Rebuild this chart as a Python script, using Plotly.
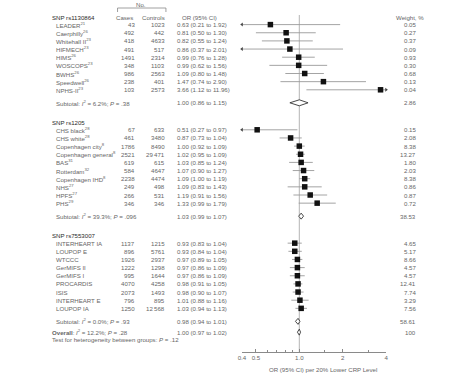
import math
import plotly.graph_objects as go

# ---------------- data ----------------
sections = ["SNP rs1130864", "SNP rs1205", "SNP rs7553007"]

s1_names = ["LEADER<sup>21</sup>", "Caerphilly<sup>26</sup>", "Whitehall II<sup>23</sup>", "HIFMECH<sup>23</sup>",
            "HIMS<sup>26</sup>", "WOSCOPS<sup>23</sup>", "BWHS<sup>26</sup>", "Speedwell<sup>26</sup>", "NPHS-II<sup>23</sup>"]
s1_cases = ["43", "492", "418", "491", "1491", "348", "986", "238", "103"]
s1_controls = ["1023", "442", "4633", "517", "2314", "1103", "2563", "401", "2573"]
s1_or = [0.63, 0.81, 0.82, 0.86, 0.99, 0.99, 1.09, 1.47, 3.66]
s1_lo = [0.21, 0.50, 0.55, 0.37, 0.76, 0.62, 0.80, 0.74, 1.12]
s1_hi = [1.92, 1.30, 1.24, 2.01, 1.28, 1.56, 1.48, 2.90, 11.96]
s1_w = ["0.05", "0.27", "0.37", "0.09", "0.93", "0.30", "0.68", "0.13", "0.04"]

s2_names = ["CHS black<sup>28</sup>", "CHS white<sup>28</sup>", "Copenhagen city<sup>8</sup>",
            "Copenhagen general<sup>8</sup>", "BAS<sup>31</sup>", "Rotterdam<sup>32</sup>",
            "Copenhagen IHD<sup>8</sup>", "NHS<sup>27</sup>", "HPFS<sup>27</sup>", "PHS<sup>29</sup>"]
s2_cases = ["67", "461", "1786", "2521", "619", "584", "2238", "249", "266", "346"]
s2_controls = ["633", "3480", "8490", "29\u2009471", "615", "4647", "4474", "498", "531", "346"]
s2_or = [0.51, 0.87, 1.00, 1.02, 1.03, 1.07, 1.09, 1.09, 1.19, 1.33]
s2_lo = [0.27, 0.73, 0.92, 0.95, 0.85, 0.90, 1.00, 0.83, 0.91, 0.99]
s2_hi = [0.97, 1.04, 1.09, 1.09, 1.24, 1.27, 1.19, 1.43, 1.56, 1.79]
s2_w = ["0.15", "2.08", "8.38", "13.27", "1.80", "2.03", "8.38", "0.86", "0.87", "0.72"]

s3_names = ["INTERHEART IA", "LOUPOP E", "WTCCC", "GerMIFS II", "GerMIFS I", "PROCARDIS", "ISIS",
            "INTERHEART E", "LOUPOP IA"]
s3_cases = ["1137", "896", "1926", "1222", "995", "4070", "2073", "796", "1250"]
s3_controls = ["1215", "5761", "2937", "1298", "1644", "4258", "1493", "895", "12\u2009568"]
s3_or = [0.93, 0.93, 0.97, 0.97, 0.97, 0.98, 0.98, 1.01, 1.03]
s3_lo = [0.83, 0.84, 0.89, 0.86, 0.86, 0.91, 0.90, 0.88, 0.94]
s3_hi = [1.04, 1.04, 1.05, 1.09, 1.09, 1.05, 1.07, 1.16, 1.13]
s3_w = ["4.65", "5.17", "8.66", "4.57", "4.57", "12.41", "7.74", "3.29", "7.56"]

sub_labels = ["Subtotal: <i>I</i><sup>2</sup> = 6.2%; <i>P</i> = .38",
              "Subtotal: <i>I</i><sup>2</sup> = 39.3%; <i>P</i> = .096",
              "Subtotal: <i>I</i><sup>2</sup> = 0.0%; <i>P</i> = .93"]
sub_or = [1.00, 1.03, 0.98]
sub_lo = [0.86, 0.99, 0.94]
sub_hi = [1.15, 1.07, 1.01]
sub_w = ["2.86", "38.53", "58.61"]

overall_label = "<b>Overall</b>: <i>I</i><sup>2</sup> = 12.2%; <i>P</i> = .28"
overall_or, overall_lo, overall_hi, overall_w = 1.00, 0.97, 1.02, "100"
het_label = "Test for heterogeneity between groups: <i>P</i> = .12"

tick_vals = [0.4, 0.5, 1.0, 2, 4]
tick_text = ["0.4", "0.5", "1.0", "2", "4"]
minor_vals = [0.6, 0.7, 0.8, 0.9, 1.5, 3]
x_min, x_max = 0.4, 4.0

# ---------------- layout helpers ----------------
W, H = 474, 376
FONT = "Liberation Sans, Arial, Helvetica, sans-serif"
FS = 6.1
TXT = "#666666"
DARK = "#2a2a2a"

def px(x):
    return x / W

STEP = 8.15
groups = [
    (s1_names, s1_cases, s1_controls, s1_or, s1_lo, s1_hi, s1_w),
    (s2_names, s2_cases, s2_controls, s2_or, s2_lo, s2_hi, s2_w),
    (s3_names, s3_cases, s3_controls, s3_or, s3_lo, s3_hi, s3_w),
]

def fmt(o, l, h):
    return f"{o:.2f} ({l:.2f} to {h:.2f})"

annotations = []

def txt(x, y, s, anchor="left", color=TXT, size=FS):
    annotations.append(dict(x=px(x), y=y, xref="paper", yref="y", text=s, showarrow=False,
                            xanchor=anchor, yanchor="middle", borderpad=0,
                            font=dict(family=FONT, size=size, color=color)))

X_NAME, X_HEAD, X_CASES, X_CTRL, X_OR, X_W = 52, 48, 134, 164, 174, 418

# header
txt(138.5, 4, "No.", "center")
txt(132, 17, "Cases", "right")
txt(164, 17, "Controls", "right")
txt(198, 17, "OR (95% CI)", "center")
txt(411, 17, "Weight, %", "center")

ci_x, ci_y, pt_x, pt_y = [], [], [], []
arrL_y, arrR_y = [], []
diamonds = []

header_y = 17
for gi, (names, cases, ctrls, ors, los, his, ws) in enumerate(groups):
    txt(X_HEAD, header_y, sections[gi], "left", DARK)
    y = header_y + 7.6
    for i in range(len(names)):
        yy = y + i * STEP
        txt(X_NAME, yy, names[i])
        txt(X_CASES, yy, cases[i], "right")
        txt(X_CTRL, yy, ctrls[i], "right")
        txt(X_OR, yy, fmt(ors[i], los[i], his[i]))
        txt(X_W, yy, ws[i], "right")
        ci_x += [los[i], his[i], None]
        ci_y += [yy, yy, None]
        pt_x.append(ors[i])
        pt_y.append(yy)
        if los[i] < x_min:
            arrL_y.append(yy)
        if his[i] > x_max:
            arrR_y.append(yy)
    last = y + (len(names) - 1) * STEP
    sy = last + 13
    txt(X_NAME, sy, sub_labels[gi])
    txt(X_OR, sy, fmt(sub_or[gi], sub_lo[gi], sub_hi[gi]))
    txt(X_W, sy, sub_w[gi], "right")
    diamonds.append((sub_or[gi], sub_lo[gi], sub_hi[gi], sy))
    header_y = sy + 19.4
    last_sub = sy

oy = last_sub + 10.8
txt(X_HEAD, oy, overall_label, "left", TXT)
txt(X_OR, oy, fmt(overall_or, overall_lo, overall_hi))
txt(X_W, oy, overall_w, "right")
diamonds.append((overall_or, overall_lo, overall_hi, oy))
txt(X_HEAD, oy + 7.4, het_label)

AXIS_Y = 352
txt(323, 369, "OR (95% CI) per 20% Lower CRP Level", "center")

fig = go.Figure()

# CI lines
fig.add_trace(go.Scatter(x=ci_x, y=ci_y, mode="lines", line=dict(color="#9a9a9a", width=0.9),
                         hoverinfo="skip", showlegend=False))
# arrows for clipped CIs
if arrL_y:
    fig.add_trace(go.Scatter(x=[x_min] * len(arrL_y), y=arrL_y, mode="markers",
                             marker=dict(symbol="triangle-left", size=3.5, color="#444"),
                             cliponaxis=False, showlegend=False, hoverinfo="skip"))
if arrR_y:
    fig.add_trace(go.Scatter(x=[x_max] * len(arrR_y), y=arrR_y, mode="markers",
                             marker=dict(symbol="triangle-right", size=3.5, color="#444"),
                             cliponaxis=False, showlegend=False, hoverinfo="skip"))
# point estimates
fig.add_trace(go.Scatter(x=pt_x, y=pt_y, mode="markers",
                         marker=dict(symbol="square", size=5.5, color="#111111", line=dict(width=0)),
                         showlegend=False, cliponaxis=False))
# diamonds
for (o, l, h, yy) in diamonds:
    fig.add_trace(go.Scatter(x=[l, o, h, o, l], y=[yy, yy - 3, yy, yy + 3, yy], mode="lines",
                             fill="toself", fillcolor="white",
                             line=dict(color="#333333", width=0.9), showlegend=False))

shapes = [
    dict(type="line", xref="x", yref="y", x0=1, x1=1, y0=15, y1=AXIS_Y,
         line=dict(color="#b5b5b5", width=1), layer="below"),
    dict(type="line", xref="paper", yref="y", x0=px(115), x1=px(164), y0=8, y1=8,
         line=dict(color="#888", width=0.8)),
    dict(type="line", xref="paper", yref="y", x0=px(115), x1=px(115), y0=8, y1=12,
         line=dict(color="#888", width=0.8)),
    dict(type="line", xref="paper", yref="y", x0=px(164), x1=px(164), y0=8, y1=12,
         line=dict(color="#888", width=0.8)),
]

fig.update_layout(
    width=W, height=H, margin=dict(l=0, r=0, t=0, b=0),
    paper_bgcolor="white", plot_bgcolor="white",
    annotations=annotations, shapes=shapes, showlegend=False,
    xaxis=dict(type="log", range=[math.log10(x_min), math.log10(x_max)],
               domain=[px(241), px(387)], anchor="free", position=(H - AXIS_Y) / H,
               showgrid=False, zeroline=False, showline=True, linecolor="#8a8a8a", linewidth=0.8,
               ticks="inside", ticklen=3, tickcolor="#8a8a8a", tickwidth=0.8,
               tickvals=tick_vals, ticktext=tick_text,
               tickfont=dict(family=FONT, size=FS, color=TXT),
               minor=dict(tickmode="array", tickvals=minor_vals, ticks="inside", ticklen=2,
                          tickcolor="#8a8a8a", tickwidth=0.8, showgrid=False)),
    yaxis=dict(range=[H, 0], domain=[0, 1], visible=False, showgrid=False, zeroline=False),
)

fig.write_html("out.html", config={"displayModeBar": False},
               post_script="document.body.style.margin='0px';document.body.style.overflow='hidden';")
